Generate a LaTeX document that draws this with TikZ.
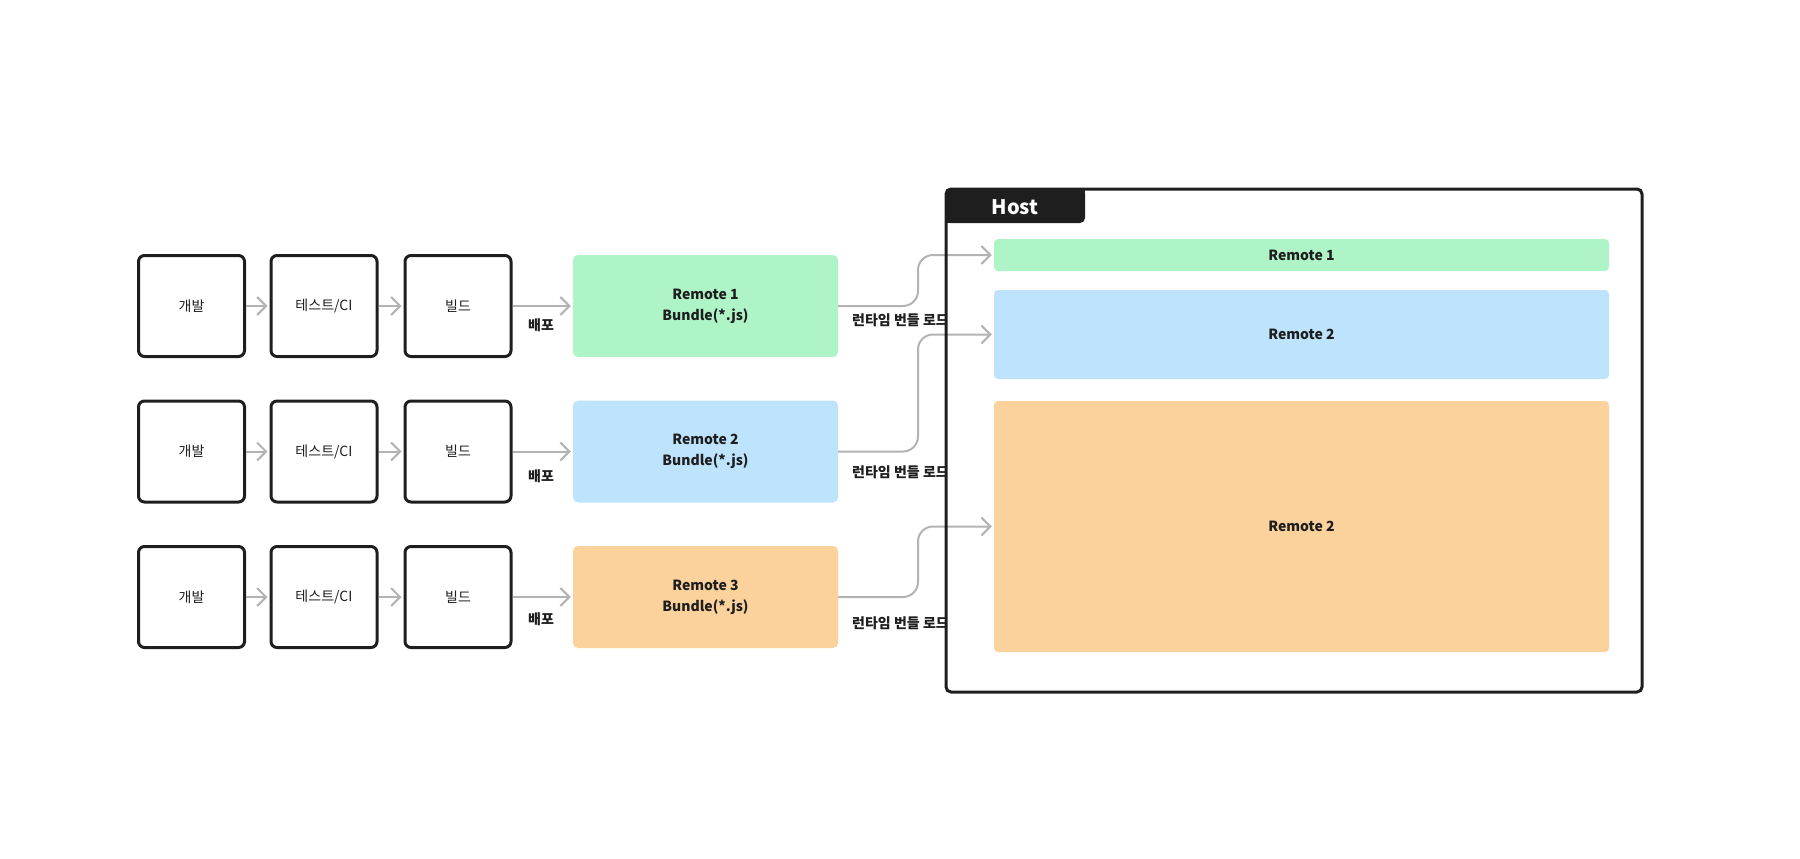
\documentclass[tikz,border=0pt]{standalone}
\usepackage{fontspec}
\setmainfont{Noto Sans CJK KR}
\usetikzlibrary{arrows.meta}
\definecolor{ink}{HTML}{1E1E1E}
\definecolor{gline}{HTML}{B3B3B3}
\definecolor{cgreen}{HTML}{AFF4C6}
\definecolor{cblue}{HTML}{BEE3FC}
\definecolor{corange}{HTML}{FBD19C}
\tikzset{
  proc/.style={draw=ink, line width=3pt, rounded corners=6pt, minimum width=106pt, minimum height=101pt, inner sep=0pt, text=ink, font=\fontsize{14}{17}\selectfont},
  bundle/.style={rounded corners=5pt, minimum width=265pt, minimum height=102pt, inner sep=0pt, text=ink, align=center, font=\fontsize{14}{21}\selectfont\bfseries},
  inner/.style={rounded corners=4pt, minimum width=615pt, inner sep=0pt, text=ink, font=\fontsize{14}{17}\selectfont\bfseries},
  lbl/.style={inner sep=0pt, text=ink, font=\fontsize{14}{17}\selectfont\bfseries},
  arr/.style={draw=gline, line width=2pt, -{Straight Barb[length=9pt, width=18pt, line width=2pt]}, shorten >=2pt},
  conn/.style={arr, rounded corners=15pt},
}
\begin{document}
\begin{tikzpicture}[x=1pt, y=-1pt]
\useasboundingbox (0,0) rectangle (1800,859);
% rows
\foreach \i/\y/\c/\ly/\ry in {1/306/cgreen/325/320, 2/451.5/cblue/476/472, 3/597/corange/619/623} {
  \node[proc] (dev\i) at (191.5,\y) {개발};
  \node[proc] (test\i) at (324,\y) {테스트/CI};
  \node[proc] (build\i) at (458,\y) {빌드};
  \node[bundle, fill=\c] (bundle\i) at (705.5,\y) {Remote \i\\Bundle(*.js)};
  \draw[arr] (dev\i.east) -- (test\i.west);
  \draw[arr] (test\i.east) -- (build\i.west);
  \draw[arr] (build\i.east) -- (bundle\i.west);
  \node[lbl] (dep\i) at (541,\ly) {배포};
  \node[lbl, anchor=west] (run\i) at (852,\ry) {런타임 번들 로드};
  \coordinate (k\i) at (918,\y);
}
% host
\fill[white] (946,189) rectangle (1642,692);
\node[inner, fill=cgreen, minimum height=32pt] (h1) at (1301.5,255) {Remote 1};
\node[inner, fill=cblue, minimum height=89pt] (h2) at (1301.5,334.5) {Remote 2};
\node[inner, fill=corange, minimum height=251pt] (h3) at (1301.5,526.5) {Remote 2};
\draw[conn] (bundle1.east) -- (k1) |- (h1.west);
\draw[conn] (bundle2.east) -- (k2) |- (h2.west);
\draw[conn] (bundle3.east) -- (k3) |- (h3.west);
\fill[ink, rounded corners=5pt] (946,189) rectangle (1085,223);
\fill[ink] (1075,189) rectangle (1085,199);
\fill[ink] (946,213) rectangle (956,223);
\draw[ink, line width=3pt, rounded corners=5pt] (946,189) rectangle (1642,692);
\node[text=white, inner sep=0pt, font=\fontsize{20}{24}\selectfont\bfseries] (host) at (1015,207) {Host};
\end{tikzpicture}
\end{document}
